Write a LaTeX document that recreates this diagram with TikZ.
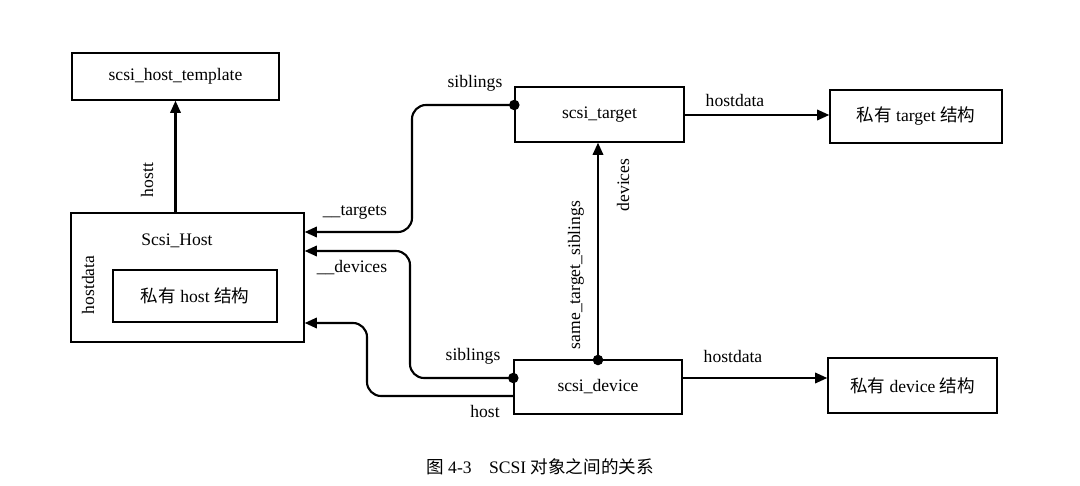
\documentclass[tikz,border=0pt]{standalone}
\usepackage{fontspec}
\setmainfont{Liberation Serif}
\newfontfamily\cjk{Noto Sans CJK SC}
\usetikzlibrary{arrows.meta}
\begin{document}
\begin{tikzpicture}[x=0.02cm,y=-0.02cm,
  font=\fontsize{10}{12}\selectfont,
  box/.style={draw,line width=0.8pt,inner sep=0pt},
  conn/.style={line width=1.2pt,rounded corners=8pt},
  arr/.style={conn,-{Triangle[length=7pt,width=6pt]}},
  dotc/.style={circle,fill,inner sep=0pt,minimum size=6pt},
  lab/.style={inner sep=1pt}]
\useasboundingbox (0,0) rectangle (1080,486);
\node[box,minimum width=4.14cm,minimum height=0.94cm] (tmpl) at (175.5,76.5) {scsi\_host\_template};
\node[box,minimum width=4.66cm,minimum height=2.58cm] (host) at (187.5,277.5) {};
\node at (177,241) {Scsi\_Host};
\node[box,minimum width=3.28cm,minimum height=1.04cm] (priv) at (195,296) {{\cjk 私有} host {\cjk 结构}};
\node[rotate=90] at (88,285) {hostdata};
\node[box,minimum width=3.38cm,minimum height=1.1cm] (tgt) at (599.5,114.5) {scsi\_target};
\node[box,minimum width=3.36cm,minimum height=1.08cm] (dev) at (598,387) {scsi\_device};
\node[box,minimum width=3.44cm,minimum height=1.06cm] (ptgt) at (916,116.5) {{\cjk 私有} target {\cjk 结构}};
\node[box,minimum width=3.38cm,minimum height=1.1cm] (pdev) at (912.5,385.5) {{\cjk 私有} device {\cjk 结构}};
\coordinate (td) at (tgt.west |- 0,105);
\coordinate (dd) at (dev.west |- 0,378);
\coordinate (dh) at (dev.west |- 0,396);
\coordinate (dt) at (598,360);
\node[dotc] at (td) {};
\node[dotc] at (dd) {};
\node[dotc] at (dt) {};
\draw[arr] (host.north -| tmpl) -- (tmpl.south);
\draw[arr] (td) -- (412,105) -- (412,232) -- (host.east |- 0,232);
\draw[arr] (dd) -- (410,378) -- (410,251) -- (host.east |- 0,251);
\draw[arr] (dh) -- (367,396) -- (367,323) -- (host.east |- 0,323);
\draw[arr] (dt) -- (dt |- tgt.south);
\draw[arr] (tgt.east |- 0,115) -- (ptgt.west |- 0,115);
\draw[arr] (dev.east |- 0,378) -- (pdev.west |- 0,378);
\node[rotate=90] at (147,180) {hostt};
\node at (475,83) {siblings};
\node at (355,212) {\_\_targets};
\node at (352,268) {\_\_devices};
\node at (473,356) {siblings};
\node at (485,411) {host};
\node[rotate=90] at (576,275) {same\_target\_siblings};
\node[rotate=90] at (623,185) {devices};
\node at (735,100) {hostdata};
\node at (733,356) {hostdata};
\node at (540,467) {{\cjk 图} 4-3\quad SCSI {\cjk 对象之间的关系}};
\end{tikzpicture}
\end{document}
